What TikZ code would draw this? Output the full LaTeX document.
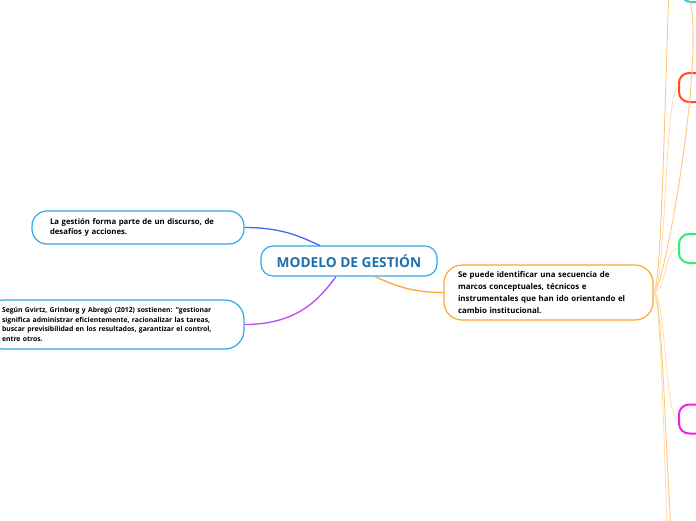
\documentclass[tikz,border=0pt]{standalone}
\usepackage{fontspec}
\setmainfont{Open Sans}

\definecolor{skyline}{HTML}{2FA8EC}
\definecolor{titleblue}{HTML}{1C70B0}
\definecolor{branchblue}{HTML}{3D6BF6}
\definecolor{branchpurple}{HTML}{B34AF7}
\definecolor{branchorange}{HTML}{FFA531}
\definecolor{twigorange}{HTML}{FFC87A}
\definecolor{twiglight}{HTML}{FFDDAA}
\definecolor{topcyan}{HTML}{1ECFEA}
\definecolor{topred}{HTML}{FF4B1F}
\definecolor{topgreen}{HTML}{2AEE7A}
\definecolor{topmagenta}{HTML}{F51DE3}

\tikzset{
  mainbox/.style={draw=skyline, line width=1.2pt, rounded corners=12pt, fill=white,
    minimum width=176pt, minimum height=30pt, text=titleblue,
    font=\bfseries\fontsize{13.7}{15}\selectfont},
  ideabox/.style={draw=skyline, line width=1.2pt, fill=white, align=left,
    inner xsep=18pt, font=\bfseries\fontsize{7.75}{10}\selectfont},
  topicbox/.style={line width=2pt, rounded corners=10pt, fill=white,
    minimum width=100pt, minimum height=29pt},
  twig/.style={line width=0.9pt, twigorange},
  twigpale/.style={line width=0.8pt, twiglight}
}

\begin{document}
\begin{tikzpicture}[x=1pt,y=-1pt]
    \clip (0,0) rectangle (696,520);

    %the ideas around the main node
    \node[mainbox] (modelo) at (349,261) {MODELO DE GESTIÓN};
    \node[ideabox, rounded corners=15pt, text width=176pt, minimum height=33pt]
        (discurso) at (138,227.5) {La gestión forma parte de un discurso, de\\desafíos y acciones.};
    \node[ideabox, rounded corners=19pt, text width=224pt, minimum height=49pt,
        font=\bfseries\fontsize{6.85}{9.7}\selectfont]
        (gvirtz) at (114,324.5) {Según Gvirtz, Grinberg y Abregú (2012) sostienen: "gestionar\\significa administrar eficientemente, racionalizar las tareas,\\buscar previsibilidad en los resultados, garantizar el control,\\entre otros.};
    \node[ideabox, draw=branchorange, rounded corners=18pt, inner xsep=14pt, text width=181pt,
        minimum height=55pt, font=\bfseries\fontsize{7.9}{11.7}\selectfont]
        (secuencia) at (548.5,292.5) {Se puede identificar una secuencia de\\marcos conceptuales, técnicos e\\instrumentales que han ido orientando el\\cambio institucional.};

    %the sub-topics cut by the right border
    \coordinate (arriba) at (681,-170);
    \node[topicbox, draw=topcyan] (cian) at (731,-12.5) {};
    \node[topicbox, draw=topred] (rojo) at (729,87.5) {};
    \node[topicbox, draw=topgreen] (verde) at (729,248.5) {};
    \node[topicbox, draw=topmagenta] (magenta) at (729,419) {};
    \coordinate (abajo) at (681,600);
    \coordinate (fondo) at (681,760);

    %draw the branches
    \draw[branchblue, line width=1.3pt] (discurso.east) .. controls +(42,0) and +(-15,-6) .. ([xshift=-29pt]modelo.north);
    \draw[branchpurple, line width=1.3pt] (gvirtz.east) .. controls +(55,0) and +(-15,20) .. ([xshift=-13pt]modelo.south);
    \draw[branchorange, line width=1.3pt] ([xshift=26pt]modelo.south) .. controls +(22,10) and +(-30,0) .. (secuencia.west);

    \foreach \hoja in {arriba,cian,abajo}
        \draw[twig] (secuencia.east) .. controls +(12,0) and +(-14,0) .. (\hoja);
    \foreach \hoja in {rojo.west,verde.west,magenta.west,fondo}
        \draw[twigpale] (secuencia.east) .. controls +(12,0) and +(-13,0) .. (\hoja);
\end{tikzpicture}
\end{document}
